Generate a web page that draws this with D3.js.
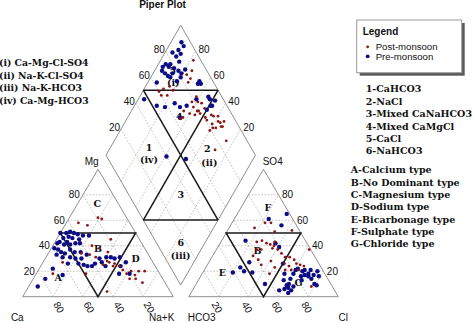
<!DOCTYPE html>
<html><head><meta charset="utf-8">
<script src="https://cdn.jsdelivr.net/npm/d3@7"></script>
<style>
html,body{margin:0;padding:0;background:#fff;}
svg{display:block;}
.sans{font-family:"Liberation Sans",Arial,sans-serif;fill:#111;}
.serif{font-family:"DejaVu Serif",serif;font-weight:bold;fill:#111;}
</style></head><body>
<svg id="c" width="474" height="323"></svg>
<script>
// ---------------- DATA ----------------
const seriesNames = ["Post-monsoon", "Pre-monsoon"];
const gridTicks = [20, 40, 60, 80];
// cation triangle: [Mg %, Na+K %]
const leftPre = [[50,0],[50,4],[51,6],[50,9],[49,12],[48,16],[48,20],[46,4],[47,7],[46,10],[45,15],[42,2],[43,3],[41,7],[43,8],[41,11],[42,14],[42,17],[38,2],[37,5],[35,8],[34,11],[37,13],[35,17],[35,21],[33,26],[33,6],[31,11],[31,16],[30,20],[30,24],[26,17],[26,24],[25,28],[24,31],[24,34],[30,36],[31,40],[31,43],[30,46],[31,49],[27,55],[24,53],[26,35],[27,39],[22,9],[17,18],[14,8],[8,6],[24,43],[18,55],[18,62]];
const leftPost = [[58,8],[62,19],[61,22],[56,15],[45,36],[40,26],[34,22],[33,28],[31,33],[28,42],[27,44],[26,48],[25,41],[24,48],[24,52],[21,56],[18,60],[20,62],[17,66],[20,67],[14,64],[14,68],[20,71],[27,13],[18,11],[18,33],[4,54],[38,32],[35,39],[11,74]];
// anion triangle: [SO4 %, Cl %]
const rightPre = [[61,23],[56,34],[65,33],[44,16],[42,37],[39,41],[27,27],[23,23],[19,20],[20,27],[19,33],[10,46],[13,57],[18,55],[9,61],[7,63],[10,62],[5,66],[8,66],[6,61],[21,61],[22,62],[20,66],[21,67],[18,71],[21,71],[17,75],[20,76],[16,79],[14,75],[16,72],[10,79],[13,69],[16,67],[17,69],[18,61],[9,81],[26,50],[14,61],[3,65],[5,58]];
const rightPost = [[54,17],[58,22],[58,26],[51,32],[52,43],[43,24],[44,27],[42,31],[41,34],[40,37],[43,36],[38,37],[37,41],[34,45],[31,49],[37,27],[37,30],[29,32],[32,27],[28,41],[23,46],[31,52],[29,56],[26,51],[24,55],[26,59],[21,58],[25,62],[24,65],[21,63],[37,62],[21,54],[18,45],[8,78],[25,36]];
// diamond: [Na+K %, SO4+Cl %]
const diamondPre = [[7,94],[10,94],[8,89],[11,89],[5,84],[9,85],[4,72],[5,75],[8,76],[5,70],[8,71],[11,72],[13,73],[13,76],[12,79],[8,78],[16,81],[19,82],[20,86],[20,80],[19,76],[13,85],[6,62],[34,91],[36,91],[34,89],[4,47],[15,53],[21,58],[26,66],[31,68],[35,73],[51,89],[52,94],[46,91],[52,90],[50,85],[35,64],[41,40],[55,52],[39,82],[48,91]];
const diamondPost = [[22,95],[25,90],[23,85],[27,86],[27,83],[16,69],[20,70],[14,60],[38,83],[37,78],[41,82],[44,84],[40,77],[44,78],[47,79],[48,84],[35,69],[40,72],[44,75],[54,81],[57,87],[62,88],[66,88],[66,92],[59,83],[63,84],[36,64],[11,60],[18,64],[52,81],[55,86],[60,90],[64,89],[67,89],[61,82],[60,79],[71,75],[75,86],[37,66],[45,79],[13,64]];
const hydroTypes = ["(i) Ca-Mg-Cl-SO4", "(ii) Na-K-Cl-SO4", "(iii) Na-K-HCO3", "(iv) Ca-Mg-HCO3"];
const diamondClasses = ["1-CaHCO3", "2-NaCl", "3-Mixed CaNaHCO3", "4-Mixed CaMgCl", "5-CaCl", "6-NaHCO3"];
const triangleClasses = ["A-Calcium type", "B-No Dominant type", "C-Magnesium type", "D-Sodium type", "E-Bicarbonage type", "F-Sulphate type", "G-Chloride type"];

// ---------------- LAYOUT ----------------
const svg = d3.select("#c");
const colPost = "#8b1414", colPre = "#0c0c86";
const baseY = 296.7, triH = 127.4;
function tri(x0, side) {
  const sx = d3.scaleLinear().domain([0, 100]).range([x0, x0 + side]);
  const sy = d3.scaleLinear().domain([0, 100]).range([baseY, baseY - triH]);
  return (top, right) => [sx(right + top / 2), sy(top)];
}
const pL = tri(22.7, 150.6);
const pR = tri(188.7, 149.6);
const dX = d3.scaleLinear().domain([0, 200]).range([106, 255.4]);
const dY = d3.scaleLinear().domain([-100, 100]).range([25.3, 285]);
const pD = (a, b) => [dX(a + b), dY(a - b)];
const line = d3.line();

const gGrid = svg.append("g").attr("fill", "none").attr("stroke", "#b4b4b4")
  .attr("stroke-width", 0.8).attr("stroke-dasharray", "1.6,1.6");
gridTicks.forEach(k => {
  [pL, pR].forEach(p => {
    gGrid.append("path").attr("d", line([p(k, 0), p(k, 100 - k)]));
    gGrid.append("path").attr("d", line([p(0, k), p(100 - k, k)]));
    gGrid.append("path").attr("d", line([p(0, 100 - k), p(100 - k, 0)]));
  });
  gGrid.append("path").attr("d", line([pD(k, 0), pD(k, 100)]));
  gGrid.append("path").attr("d", line([pD(0, k), pD(100, k)]));
});

const gOut = svg.append("g").attr("fill", "none").attr("stroke", "#8e8e8e").attr("stroke-width", 1);
[pL, pR].forEach(p => gOut.append("path").attr("d", line([p(0, 0), p(0, 100), p(100, 0)]) + "Z"));
gOut.append("path").attr("d", line([pD(0, 0), pD(0, 100), pD(100, 100), pD(100, 0)]) + "Z");

const gThick = svg.append("g").attr("fill", "none").attr("stroke", "#1a1a1a").attr("stroke-width", 1.5);
[pL, pR].forEach(p => gThick.append("path").attr("d", line([p(50, 0), p(50, 50), p(0, 50)]) + "Z"));
gThick.append("path").attr("d", line([pD(0, 50), pD(50, 100)]));
gThick.append("path").attr("d", line([pD(0, 50), pD(100, 50)]));
gThick.append("path").attr("d", line([pD(50, 100), pD(50, 0)]));
gThick.append("path").attr("d", line([pD(50, 0), pD(100, 50)]));

// tick labels
const gT = svg.append("g").attr("class", "sans").attr("font-size", 10);
gridTicks.forEach(k => {
  let q = pL(k, 0);
  gT.append("text").attr("x", q[0] - 3).attr("y", q[1]).attr("dy", "0.35em").attr("text-anchor", "end").text(k);
  q = pR(k, 100 - k);
  gT.append("text").attr("x", q[0] + 3.5).attr("y", q[1]).attr("dy", "0.35em").attr("text-anchor", "start").text(k);
  q = pL(0, 100 - k);
  gT.append("text").attr("transform", `translate(${q[0] + 6},${q[1] + 10.5}) rotate(60)`)
    .attr("text-anchor", "middle").attr("dy", "0.35em").text(k);
  q = pR(0, k);
  gT.append("text").attr("transform", `translate(${q[0] - 1.5},${q[1] + 10.5}) rotate(60)`)
    .attr("text-anchor", "middle").attr("dy", "0.35em").text(k);
  q = pD(0, k);
  gT.append("text").attr("x", q[0] - 6.5).attr("y", q[1] - 1.3).attr("dy", "0.35em").attr("text-anchor", "middle").text(k);
  q = pD(100 - k, 100);
  gT.append("text").attr("x", q[0] + 8.4).attr("y", q[1] - 1.3).attr("dy", "0.35em").attr("text-anchor", "middle").text(k);
});
// corner labels
const corners = [["Ca", 17.3, 317.8], ["Na+K", 161.7, 317.8], ["HCO3", 201.7, 317.8], ["Cl", 343.3, 317.8], ["Mg", 91.7, 161.7], ["SO4", 272.7, 161.7]];
corners.forEach(c => gT.append("text").attr("x", c[1]).attr("y", c[2]).attr("dy", "0.35em").attr("text-anchor", "middle").text(c[0]));
svg.append("text").attr("class", "sans").attr("font-size", 10).attr("font-weight", "bold")
  .attr("x", 162.5).attr("y", 8).attr("text-anchor", "middle").text("Piper Plot");

// region labels
const gR = svg.append("g").attr("class", "serif").attr("font-size", 9.5).attr("text-anchor", "middle");
[["A", pL(15, 16)], ["B", pL(38, 31)], ["C", pL(73, 13)], ["D", pL(30, 60)],
 ["F", pR(70, 18)], ["B", pR(36, 28)], ["E", pR(19, 13)], ["G", pR(11, 68)]]
  .forEach(d => gR.append("text").attr("x", d[1][0]).attr("y", d[1][1]).attr("dy", "0.35em").text(d[0]));
[["5", 172.7, 70.7], ["(i)", 173.3, 82.7], ["4", 179.3, 116.7], ["1", 149, 147.3], ["(iv)", 149, 160],
 ["2", 207.3, 149], ["(ii)", 209.3, 162.3], ["3", 180.7, 195], ["6", 180.7, 242.7], ["(iii)", 180.7, 255.7]]
  .forEach(d => gR.append("text").attr("x", d[1]).attr("y", d[2]).attr("dy", "0.35em").text(d[0]));

// points
function dots(data, proj, col, r) {
  svg.append("g").attr("fill", col).selectAll("circle").data(data).join("circle")
    .attr("cx", d => proj(d[0], d[1])[0]).attr("cy", d => proj(d[0], d[1])[1]).attr("r", r);
}
dots(leftPre, pL, colPre, 2.2);
dots(rightPre, pR, colPre, 2.2);
dots(diamondPre, pD, colPre, 2.2);
dots(leftPost, pL, colPost, 1.4);
dots(rightPost, pR, colPost, 1.4);
dots(diamondPost, pD, colPost, 1.4);

// side texts
const gS = svg.append("g").attr("class", "serif");
hydroTypes.forEach((t, i) => gS.append("text").attr("font-size", 9.3).attr("x", -1).attr("y", 63 + i * 12.5).attr("dy", "0.35em").text(t));
diamondClasses.forEach((t, i) => gS.append("text").attr("font-size", 9.5).attr("x", 365.7).attr("y", 89 + i * 12.4).attr("dy", "0.35em").text(t));
triangleClasses.forEach((t, i) => gS.append("text").attr("font-size", 9.5).attr("x", 350.7).attr("y", 170 + i * 12.33).attr("dy", "0.35em").text(t));

// legend
const gL = svg.append("g");
gL.append("rect").attr("x", 359.7).attr("y", 23).attr("width", 105).attr("height", 52.7).attr("fill", "#5a5a5a");
gL.append("rect").attr("x", 356.7).attr("y", 20).attr("width", 105).attr("height", 52.7).attr("fill", "#fff").attr("stroke", "#9a9a9a");
gL.append("text").attr("class", "sans").attr("font-size", 10).attr("font-weight", "bold").attr("x", 362.7).attr("y", 31.7).attr("dy", "0.35em").text("Legend");
[[colPost, 1.4, 46.8], [colPre, 1.9, 56.3]].forEach((d, i) => {
  gL.append("circle").attr("cx", 367.7).attr("cy", d[2]).attr("r", d[1]).attr("fill", d[0]);
  gL.append("text").attr("class", "sans").attr("font-size", 9.6).attr("x", 375.7).attr("y", d[2]).attr("dy", "0.35em").text(seriesNames[i]);
});
</script>
</body></html>
